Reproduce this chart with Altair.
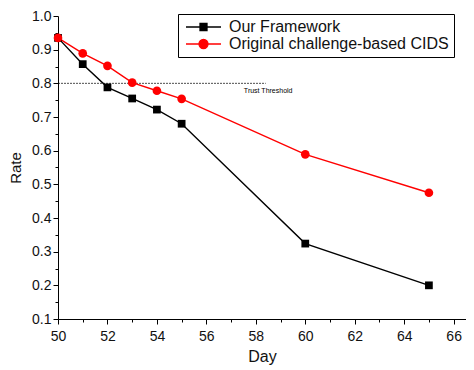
import altair as alt
import pandas as pd

days = [50, 51, 52, 53, 54, 55, 60, 65]
framework = [0.935, 0.857, 0.788, 0.755, 0.722, 0.680, 0.324, 0.200]
cids = [0.935, 0.889, 0.852, 0.802, 0.778, 0.754, 0.589, 0.475]
series = ["Our Framework", "Original challenge-based CIDS"]
colors = ["#000000", "#ff0000"]

x_ticks = [50, 52, 54, 56, 58, 60, 62, 64, 66]
x_minor = [51, 53, 55, 57, 59, 61, 63, 65]
y_ticks = [0.1, 0.2, 0.3, 0.4, 0.5, 0.6, 0.7, 0.8, 0.9, 1.0]
y_minor = [0.15, 0.25, 0.35, 0.45, 0.55, 0.65, 0.75, 0.85, 0.95]

threshold_rate = [0.8]
threshold_start = [50]
threshold_end = [58.4]
threshold_text = ["Trust Threshold"]
threshold_text_day = [58.5]
threshold_text_rate = [0.776]

FONT = "Liberation Sans"

df = pd.DataFrame({
    "day": days + days,
    "rate": framework + cids,
    "series": [series[0]] * len(days) + [series[1]] * len(days),
})
thr = pd.DataFrame({"x": threshold_start, "x2": threshold_end, "y": threshold_rate})
thr_txt = pd.DataFrame({"x": threshold_text_day, "y": threshold_text_rate, "t": threshold_text})

xscale = alt.Scale(domain=[50, 66.5], nice=False, zero=False)
yscale = alt.Scale(domain=[0.1, 1.0], nice=False, zero=False)
cscale = alt.Scale(domain=series, range=colors)

x_major = alt.Axis(values=x_ticks, title="Day", orient="bottom", grid=False, format="d",
                   labelFont=FONT, labelFontSize=14, labelColor="#111", labelPadding=5,
                   titleFont=FONT, titleFontSize=16, titleFontWeight="normal", titleColor="#111",
                   titlePadding=5, tickSize=5, tickColor="black", domainColor="black", labelFlush=False)
y_major = alt.Axis(values=y_ticks, title="Rate", orient="left", grid=False, format=".1f",
                   labelFont=FONT, labelFontSize=14, labelColor="#111", labelPadding=2,
                   titleFont=FONT, titleFontSize=15, titleFontWeight="normal", titleColor="#111",
                   titlePadding=8, tickSize=5, tickColor="black", domainColor="black")
x_min_ax = alt.Axis(values=x_minor, title="", orient="bottom", labels=False, domain=False,
                    grid=False, tickSize=3, tickColor="black")
y_min_ax = alt.Axis(values=y_minor, title="", orient="left", labels=False, domain=False,
                    grid=False, tickSize=3, tickColor="black")

sym_square = "M-1,0H6M1.8,-0.7H3.2V0.7H1.8Z"
sym_circle = "M-1,0H6M1.6,0A0.9,0.9 0 1,0 3.4,0A0.9,0.9 0 1,0 1.6,0Z"

legend = alt.Legend(title="", orient="none", legendX=120, legendY=-2, strokeColor="black",
                    fillColor="white", padding=5, labelFont=FONT, labelFontSize=16,
                    labelColor="#111", labelLimit=0, symbolSize=100, labelOffset=30,
                    rowPadding=1, symbolStrokeWidth=1.3, symbolOpacity=1)

legend_layer = alt.Chart(df).mark_point(filled=True, opacity=0).encode(
    x=alt.X("day:Q", scale=xscale, axis=None),
    y=alt.Y("rate:Q", scale=yscale, axis=None),
    color=alt.Color("series:N", scale=cscale, legend=legend),
    stroke=alt.Stroke("series:N", scale=alt.Scale(domain=series, range=colors), legend=legend),
    shape=alt.Shape("series:N", scale=alt.Scale(domain=series, range=[sym_square, sym_circle]),
                    legend=legend),
)

rule = alt.Chart(thr).mark_rule(color="black", strokeWidth=0.7, strokeDash=[2, 1]).encode(
    x=alt.X("x:Q", scale=xscale, axis=x_min_ax),
    x2="x2:Q",
    y=alt.Y("y:Q", scale=yscale, axis=y_min_ax),
)

txt = alt.Chart(thr_txt).mark_text(font=FONT, fontSize=7, color="black", align="center",
                                    baseline="middle").encode(
    x=alt.X("x:Q", scale=xscale, axis=None),
    y=alt.Y("y:Q", scale=yscale, axis=None),
    text="t:N",
)

lines = alt.Chart(df).mark_line(strokeWidth=1.4).encode(
    x=alt.X("day:Q", scale=xscale, axis=x_major),
    y=alt.Y("rate:Q", scale=yscale, axis=y_major),
    color=alt.Color("series:N", scale=cscale, legend=None),
    order="day:Q",
)

squares = alt.Chart(df).transform_filter(
    alt.datum.series == series[0]
).mark_point(shape="square", filled=True, size=60, opacity=1).encode(
    x=alt.X("day:Q", scale=xscale, axis=None),
    y=alt.Y("rate:Q", scale=yscale, axis=None),
    color=alt.Color("series:N", scale=cscale, legend=None),
)

circles = alt.Chart(df).transform_filter(
    alt.datum.series == series[1]
).mark_point(shape="circle", filled=True, size=75, opacity=1).encode(
    x=alt.X("day:Q", scale=xscale, axis=None),
    y=alt.Y("rate:Q", scale=yscale, axis=None),
    color=alt.Color("series:N", scale=cscale, legend=None),
)

chart = alt.layer(legend_layer, rule, txt, lines, squares, circles).resolve_axis(
    x="independent", y="independent"
).properties(
    width=408, height=303,
    autosize=alt.AutoSizeParams(type="none"),
    padding={"left": 50, "top": 8, "right": 0, "bottom": 46},
).configure_view(stroke=None)

chart.save("out.html", embed_options={"renderer": "svg", "actions": False})
